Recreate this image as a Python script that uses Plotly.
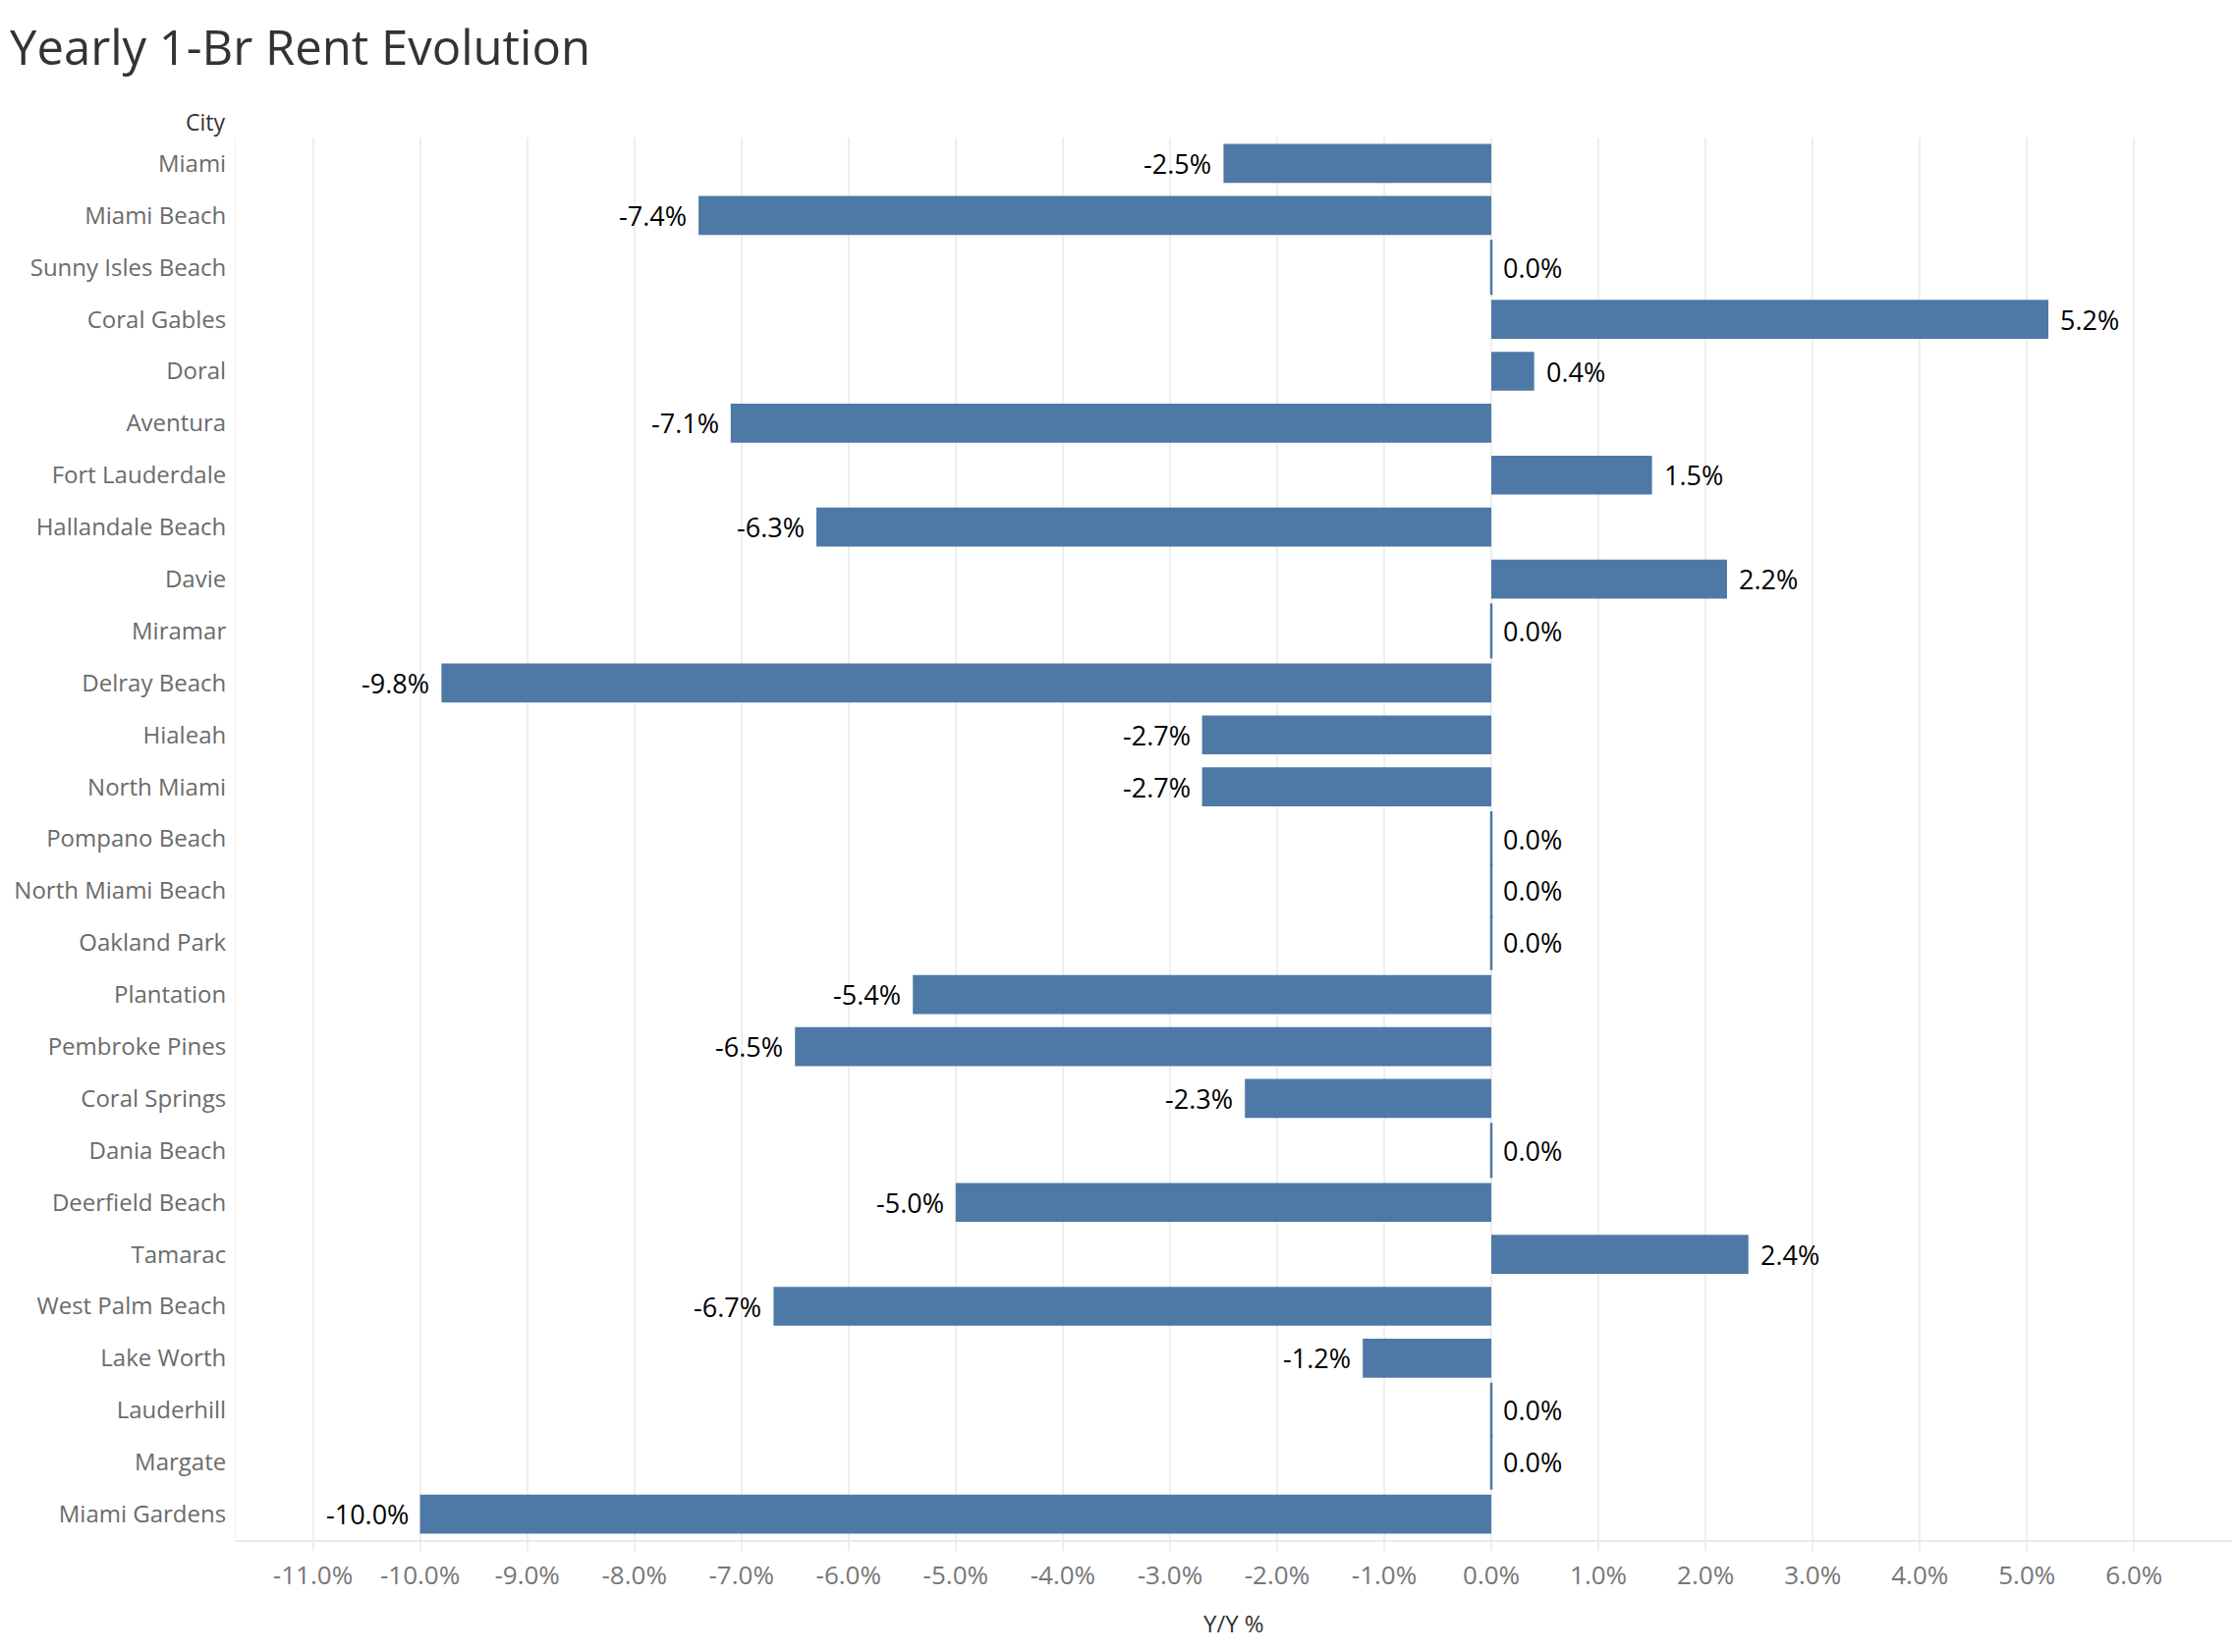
import plotly.graph_objects as go

cities = [
    "Miami", "Miami Beach", "Sunny Isles Beach", "Coral Gables", "Doral",
    "Aventura", "Fort Lauderdale", "Hallandale Beach", "Davie", "Miramar",
    "Delray Beach", "Hialeah", "North Miami", "Pompano Beach", "North Miami Beach",
    "Oakland Park", "Plantation", "Pembroke Pines", "Coral Springs", "Dania Beach",
    "Deerfield Beach", "Tamarac", "West Palm Beach", "Lake Worth", "Lauderhill",
    "Margate", "Miami Gardens",
]
yoy_pct = [
    -2.5, -7.4, 0.0, 5.2, 0.4,
    -7.1, 1.5, -6.3, 2.2, 0.0,
    -9.8, -2.7, -2.7, 0.0, 0.0,
    0.0, -5.4, -6.5, -2.3, 0.0,
    -5.0, 2.4, -6.7, -1.2, 0.0,
    0.0, -10.0,
]
x_ticks = list(range(-11, 7))
x_tick_labels = [f"{t:.1f}%" for t in x_ticks]

TITLE = "Yearly 1-Br Rent Evolution"
Y_HEADER = "City"
X_TITLE = "Y/Y %"

BAR = "#4e79a7"
FONT = "Open Sans"
W, H = 2272, 1682
M_L, M_R, M_T, M_B = 240, 0, 139.5, 113.5
plot_h = H - M_T - M_B

fig = go.Figure()

fig.add_trace(go.Bar(
    x=yoy_pct, y=cities, orientation="h",
    marker=dict(color=BAR, line=dict(width=0)),
    hoverinfo="skip", showlegend=False,
))

zero_c = [c for c, v in zip(cities, yoy_pct) if v == 0]
zero_v = [v for v in yoy_pct if v == 0]
fig.add_trace(go.Scatter(
    x=zero_v, y=zero_c, mode="markers",
    marker=dict(symbol="line-ns", size=40, color=BAR,
                line=dict(color=BAR, width=2.5)),
    hoverinfo="skip", showlegend=False,
))

# zero reference line (dashed)
fig.add_shape(type="line", xref="x", yref="paper", x0=0, x1=0, y0=-0.0065, y1=1,
              line=dict(color="#c4c4c4", width=1.5, dash="3px,3px"), layer="below")

for c, v in zip(cities, yoy_pct):
    neg = v < 0
    fig.add_annotation(
        x=v, y=c, xref="x", yref="y", text=f"{v:.1f}%", showarrow=False,
        xanchor="right" if neg else "left", yanchor="middle",
        xshift=-10 if neg else 10,
        font=dict(family=FONT, size=27, color="#000000"),
    )

fig.add_annotation(
    xref="paper", yref="paper", x=0, y=(H - M_B - 123) / plot_h,
    xanchor="right", yanchor="middle", xshift=-9, showarrow=False,
    text=Y_HEADER, font=dict(family=FONT, size=23, color="#333333"),
)
fig.add_annotation(
    xref="paper", yref="paper", x=0.5, y=(H - M_B - 1653) / plot_h,
    xanchor="center", yanchor="middle", showarrow=False,
    text=X_TITLE, font=dict(family=FONT, size=24, color="#333333"),
)

fig.update_layout(
    width=W, height=H,
    margin=dict(l=M_L, r=M_R, t=M_T, b=M_B, pad=0),
    paper_bgcolor="white", plot_bgcolor="white",
    bargap=0.25,
    title=dict(text=TITLE, x=10 / W, xanchor="left", xref="container",
               y=1 - 49 / H, yanchor="middle", yref="container",
               font=dict(family=FONT, size=49, color="#333333")),
    xaxis=dict(
        range=[-11.72, 6.914], tickvals=x_ticks, ticktext=x_tick_labels,
        showgrid=True, gridcolor="#eeeeee", gridwidth=1.5,
        zeroline=False, showline=True, linecolor="#ebebeb", linewidth=2,
        ticks="outside", ticklen=9, tickcolor="#eeeeee", tickwidth=1.5,
        ticklabelstandoff=3,
        tickfont=dict(family=FONT, size=26, color="#777777"),
        fixedrange=True,
    ),
    yaxis=dict(
        range=[len(cities) - 0.5, -0.5], type="category",
        categoryorder="array", categoryarray=cities,
        showgrid=False, zeroline=False, showline=True, linecolor="#f0f0f0", linewidth=1,
        ticks="", ticklabelstandoff=4,
        tickfont=dict(family=FONT, size=24, color="#6b6b6b"),
        fixedrange=True,
    ),
)

fig.write_html(
    "out.html",
    config={"displayModeBar": False},
    post_script="document.body.style.margin='0';document.body.style.overflow='hidden';",
)
